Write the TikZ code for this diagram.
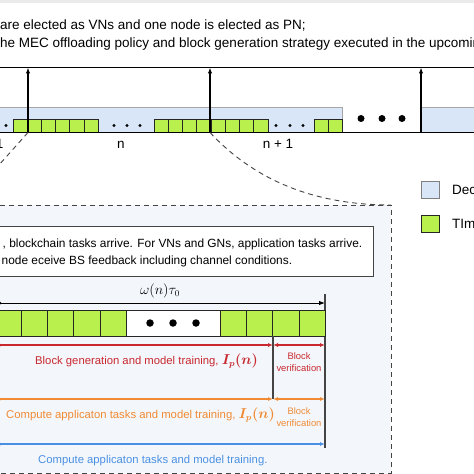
\documentclass[tikz,border=0pt]{standalone}
\usepackage{fontspec}
\setmainfont{Liberation Sans}
\usetikzlibrary{arrows.meta}
\definecolor{decblue}{HTML}{D8E6F8}
\definecolor{slotgreen}{HTML}{B9F04E}
\definecolor{boxbg}{HTML}{F3F7FC}
\definecolor{redc}{HTML}{C8282E}
\definecolor{orangec}{HTML}{F08A33}
\definecolor{bluec}{HTML}{4A90E2}
\definecolor{darkln}{HTML}{444444}
\begin{document}
\begin{tikzpicture}[x=1bp,y=-1bp,
  slotbox/.style={draw=black!85, fill=slotgreen, line width=0.8bp},
  decbox/.style={draw=gray!70, fill=decblue, line width=0.6bp},
  dashln/.style={dash pattern=on 5bp off 4bp, draw=darkln, line width=0.9bp},
  bigtxt/.style={font=\fontsize{13.5bp}{16bp}\selectfont, inner sep=0pt},
  midtxt/.style={font=\fontsize{11.9bp}{14bp}\selectfont, inner sep=0pt},
  labtxt/.style={font=\fontsize{11.3bp}{14bp}\selectfont, inner sep=0pt},
  smalltxt/.style={font=\fontsize{9.4bp}{11.8bp}\selectfont, inner sep=0pt, align=center},
  tipk/.style={-{Latex[length=6bp,width=4.5bp]}},
  dot/.style={circle, fill=black, inner sep=0pt, minimum size=#1}
]
\useasboundingbox (0,0) rectangle (474,474);
\clip (0,0) rectangle (474,474);
\fill[white] (0,0) rectangle (474,474);
\fill[black!8] (0,0) rectangle (474,3);

% top texts
\node[bigtxt, anchor=base west] (t1) at (0,30) {are elected as VNs and one node is elected as PN;};
\node[bigtxt, anchor=base west] (t2) at (-3.8,47.7) {the MEC offloading policy and block generation strategy executed in the upcoming};

% top horizontal line
\coordinate (topL) at (0,67.5);
\coordinate (topR) at (474,67.5);
\draw[line width=1.2bp] (topL) -- (topR);

% timeline
\draw[decbox] (-2,107.5) rectangle (342,132.5);
\draw[decbox] (421,107) rectangle (476,132.5);
\foreach \i in {0,...,5} \draw[slotbox] (13.3+\i*14.12,119) rectangle ++(14.12,13.5);
\foreach \i in {0,...,7} \draw[slotbox] (154+\i*14.25,119) rectangle ++(14.25,13.5);
\foreach \i in {0,...,1} \draw[slotbox] (314+\i*14,119) rectangle ++(14,13.5);
\draw[line width=1.2bp] (0,132.5) -- (474,132.5);
\foreach \x in {6,114,127,140,276,290,303} \node[dot=3.4bp] at (\x,125.5) {};
\foreach \x in {361,382,402} \node[dot=7bp] at (\x,118.5) {};

% labels
\node[bigtxt, anchor=base east] (lnm) at (3.5,148.5) {n - 1};
\node[bigtxt, anchor=base] (ln) at (121,148.5) {n};
\node[bigtxt, anchor=base] (lnp) at (278,148.5) {n + 1};

% arrows to top line
\coordinate (a1b) at (28,132.5); \coordinate (a1t) at (28,67.5);
\coordinate (a2b) at (210,132.5); \coordinate (a2t) at (210,67.5);
\coordinate (a3b) at (421,132.5); \coordinate (a3t) at (421,67.5);
\draw[tipk, line width=1.1bp] (a1b) -- (a1t);
\draw[tipk, line width=1.1bp] (a2b) -- (a2t);
\draw[tipk, line width=1.1bp] (a3b) -- (a3t);

% zoomed dashed box
\draw[dashln, fill=boxbg] (-10,205) rectangle (391,473);
\coordinate (boxTL) at (-10,175);
\coordinate (boxTR) at (391,205);
\draw[dashln] (a1b) -- (boxTL);
\draw[dashln] (a2b) .. controls (245,170) and (300,205) .. (boxTR);

% text box
\draw[darkln, fill=white!96!boxbg, line width=1bp] (-5,226.5) rectangle (373,276.5);
\node[midtxt, anchor=base west] (b1) at (2.5,247.8) {, blockchain tasks arrive. For VNs and GNs, application tasks arrive.};
\node[midtxt, anchor=base west] (b2) at (1.5,264.5) {node eceive BS feedback including channel conditions.};

% omega label and arrow
\node[font=\fontsize{13.5bp}{15bp}\selectfont, inner sep=0pt] (om) at (160,291) {$\omega(n)\tau_0$};
\coordinate (oL) at (0,303); \coordinate (oR) at (325,303);
\draw[tipk, line width=1bp] (oL) -- (oR);
\node[dot=3bp] at (0,303) {};
\coordinate (vR1) at (325,294); \coordinate (vR2) at (325,448);
\draw[darkln, line width=1.1bp] (vR1) -- (vR2);

% second slot row
\draw[black!85, fill=white, line width=0.8bp] (-6,310.5) rectangle (325,336);
\foreach \i in {0,...,4} \draw[slotbox] (-5.3+\i*26.3,310.5) rectangle ++(26.3,25.5);
\foreach \i in {0,...,3} \draw[slotbox] (220+\i*26.3,310.5) rectangle ++(26.3,25.5);
\foreach \x in {150,173,196} \node[dot=7.5bp] at (\x,323) {};
\coordinate (vM1) at (273,336); \coordinate (vM2) at (273,399);
\draw[darkln, line width=1.1bp] (vM1) -- (vM2);

% red
\coordinate (rL) at (0,345); \coordinate (rM) at (273,345); \coordinate (rR) at (325,345);
\draw[redc, line width=1.1bp, -{Latex[length=5bp,width=4bp]}] (rL) -- (rM);
\draw[redc, line width=1.1bp, {Latex[length=5bp,width=4bp]}-{Latex[length=5bp,width=4bp]}] (rM) -- (rR);
\node[dot=3bp, fill=redc] at (0,345) {};
\node[labtxt, text=redc, anchor=base west] (rt) at (35,364) {Block generation and model training, {\fontsize{13.5bp}{15bp}\selectfont\boldmath$I_p(n)$}};
\node[smalltxt, text=redc] (rv) at (299,362) {Block\\verification};

% orange
\coordinate (oaL) at (0,399); \coordinate (oaM) at (273,399); \coordinate (oaR) at (325,399);
\draw[orangec, line width=1.1bp, -{Latex[length=5bp,width=4bp]}] (oaL) -- (oaM);
\draw[orangec, line width=1.1bp, {Latex[length=5bp,width=4bp]}-{Latex[length=5bp,width=4bp]}] (oaM) -- (oaR);
\node[dot=3bp, fill=orangec] at (0,399) {};
\node[labtxt, text=orangec, anchor=base west] (ot) at (6,418) {Compute applicaton tasks and model training, {\fontsize{13.5bp}{15bp}\selectfont\boldmath$I_p(n)$}};
\node[smalltxt, text=orangec] (ov) at (299,417) {Block\\verification};

% blue
\coordinate (bL) at (0,444); \coordinate (bR) at (325,444);
\draw[bluec, line width=1.1bp, -{Latex[length=5bp,width=4bp]}] (bL) -- (bR);
\node[dot=3bp, fill=bluec] at (0,444) {};
\node[labtxt, text=bluec, anchor=base west] (bt) at (38,463) {Compute applicaton tasks and model training.};

% legend
\draw[decbox, draw=gray] (421.5,181) rectangle (439,198);
\node[bigtxt, anchor=base west] (lg1) at (452,194.5) {Decision};
\draw[slotbox] (421.5,215) rectangle (439,232);
\node[bigtxt, anchor=base west] (lg2) at (452,228.5) {TIme slot};
\end{tikzpicture}
\end{document}
